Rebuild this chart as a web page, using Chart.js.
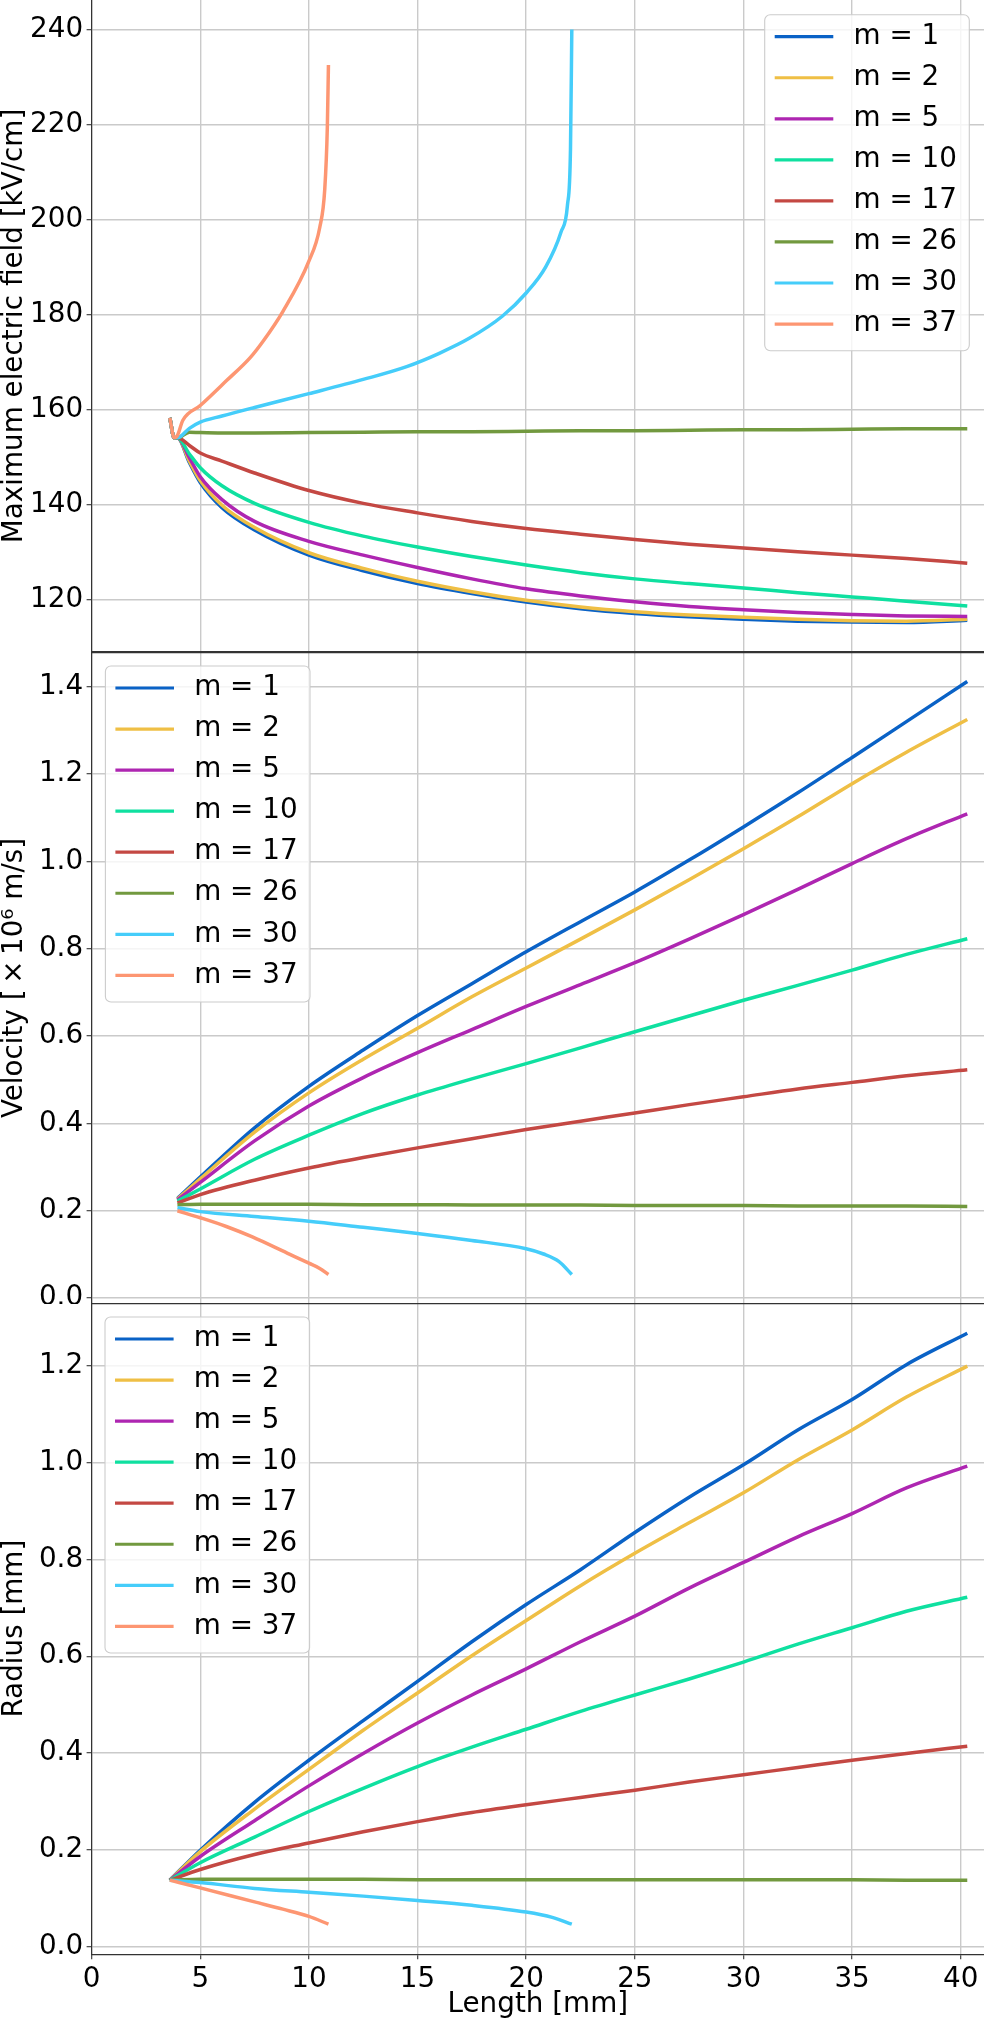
<!DOCTYPE html>
<html>
<head>
<meta charset="utf-8">
<script src="https://cdn.jsdelivr.net/npm/chart.js@4.4.0/dist/chart.umd.min.js"></script>
<style>
  body { margin: 0; background: #fff; overflow: hidden; width: 984px; height: 2020px; position: relative; }
  .panel { position: absolute; left: 0; }
  canvas { display: block; }
</style>
</head>
<body>
<div class="panel" style="top:0px"><canvas id="field" width="984" height="652"></canvas></div>
<div class="panel" style="top:652px"><canvas id="velocity" width="984" height="652"></canvas></div>
<div class="panel" style="top:1303px"><canvas id="radius" width="984" height="717"></canvas></div>
<script>
const labels = ["m = 1", "m = 2", "m = 5", "m = 10", "m = 17", "m = 26", "m = 30", "m = 37"];
const colors = ["#0a62c6", "#efbf45", "#ae26b1", "#0fe0a0", "#c44843", "#72993f", "#45cdfa", "#fd9672"];

// top panel: maximum electric field [kV/cm]
const lenE   = [3.6, 3.8, 3.95, 4.5, 5, 6, 7.5, 10, 12.5, 15, 17.5, 20, 22.5, 25, 27.5, 30, 32.5, 35, 37.5, 40.3];
const fieldM1  = [158.2, 154, 154, 148.8, 144.6, 139.3, 134.6, 129.3, 126.0, 123.3, 121.2, 119.4, 118.0, 117.0, 116.3, 115.8, 115.4, 115.2, 115.1, 115.6];
const fieldM2  = [158.2, 154, 154, 149.1, 145.0, 139.8, 135.1, 129.8, 126.5, 123.8, 121.6, 119.8, 118.4, 117.4, 116.7, 116.2, 115.8, 115.5, 115.4, 115.8];
const fieldM5  = [158.2, 154, 154, 149.8, 145.8, 141.0, 136.4, 132.2, 129.3, 126.7, 124.3, 122.2, 120.7, 119.5, 118.5, 117.8, 117.2, 116.8, 116.5, 116.4];
const fieldM10 = [158.2, 154, 154, 150.6, 147.7, 143.9, 140.2, 136.2, 133.3, 131.0, 129.0, 127.2, 125.6, 124.3, 123.3, 122.4, 121.4, 120.5, 119.6, 118.6];
const fieldM17 = [158.2, 154, 154, 152.4, 150.8, 149.1, 146.6, 142.9, 140.2, 138.2, 136.4, 134.9, 133.7, 132.6, 131.6, 130.8, 130.0, 129.3, 128.6, 127.6];
const fieldM26 = [158.2, 154, 154, 155.2, 155.1, 155.0, 155.0, 155.1, 155.2, 155.3, 155.3, 155.4, 155.5, 155.5, 155.6, 155.7, 155.7, 155.8, 155.9, 155.9];
const lenE30   = [3.6, 3.8, 3.95, 4.5, 5, 6, 7.5, 10, 12.5, 14.5, 16, 17.4, 18.9, 20, 20.9, 21.6, 21.9, 22.04, 22.1];
const fieldM30 = [158.2, 154, 154, 156.0, 157.3, 158.6, 160.4, 163.3, 166.3, 169.0, 171.8, 175.0, 179.6, 184.5, 190.0, 197.3, 203.0, 215.0, 240];
const lenE37   = [3.6, 3.8, 3.95, 4.2, 5, 6.2, 7.3, 7.9, 8.8, 10, 10.5, 10.73, 10.85, 10.9];
const fieldM37 = [158.2, 154, 154.5, 157.7, 160.8, 166.0, 170.9, 174.4, 180.6, 191.2, 198.3, 206.3, 219.6, 232.5];

// middle panel: velocity [x10^6 m/s]
const lenV   = [3.95, 5, 7.5, 10, 12.5, 15, 17.5, 20, 22.5, 25, 27.5, 30, 32.5, 35, 37.5, 40.3];
const velM1  = [0.228, 0.277, 0.39, 0.485, 0.568, 0.647, 0.72, 0.793, 0.862, 0.93, 1.003, 1.079, 1.157, 1.238, 1.32, 1.412];
const velM2  = [0.227, 0.273, 0.38, 0.47, 0.547, 0.618, 0.69, 0.756, 0.822, 0.889, 0.958, 1.029, 1.102, 1.178, 1.25, 1.325];
const velM5  = [0.225, 0.265, 0.36, 0.44, 0.505, 0.562, 0.615, 0.668, 0.718, 0.768, 0.822, 0.878, 0.936, 0.995, 1.052, 1.109];
const velM10 = [0.222, 0.25, 0.318, 0.373, 0.423, 0.465, 0.502, 0.537, 0.573, 0.61, 0.646, 0.682, 0.716, 0.751, 0.787, 0.823];
const velM17 = [0.218, 0.237, 0.27, 0.298, 0.322, 0.344, 0.365, 0.386, 0.405, 0.424, 0.443, 0.461, 0.479, 0.494, 0.509, 0.523];
const velM26 = [0.214, 0.215, 0.215, 0.215, 0.214, 0.214, 0.213, 0.213, 0.213, 0.212, 0.212, 0.212, 0.211, 0.211, 0.211, 0.21];
const lenV30 = [3.95, 5, 7.5, 10, 12.5, 15, 17.5, 20, 20.8, 21.5, 22.1];
const velM30 = [0.207, 0.198, 0.187, 0.176, 0.162, 0.148, 0.132, 0.113, 0.101, 0.084, 0.054];
const lenV37 = [3.95, 5, 6.2, 7.4, 9, 10, 10.5, 10.9];
const velM37 = [0.2, 0.184, 0.164, 0.14, 0.103, 0.08, 0.068, 0.054];

// bottom panel: radius [mm]
const lenR   = [3.6, 5, 7.5, 10, 12.5, 15, 17.5, 20, 22.5, 25, 27.5, 30, 32.5, 35, 37.5, 40.3];
const radM1  = [0.137, 0.199, 0.298, 0.385, 0.467, 0.548, 0.63, 0.707, 0.779, 0.856, 0.929, 0.996, 1.068, 1.131, 1.203, 1.268];
const radM2  = [0.137, 0.196, 0.284, 0.366, 0.447, 0.524, 0.601, 0.674, 0.746, 0.813, 0.876, 0.938, 1.006, 1.068, 1.136, 1.2];
const radM5  = [0.137, 0.186, 0.26, 0.332, 0.399, 0.462, 0.52, 0.574, 0.63, 0.683, 0.741, 0.794, 0.847, 0.895, 0.948, 0.993];
const radM10 = [0.137, 0.173, 0.226, 0.279, 0.327, 0.372, 0.412, 0.449, 0.486, 0.52, 0.553, 0.588, 0.625, 0.659, 0.693, 0.722];
const radM17 = [0.137, 0.159, 0.19, 0.214, 0.237, 0.258, 0.277, 0.293, 0.308, 0.323, 0.34, 0.355, 0.37, 0.385, 0.399, 0.414];
const radM26 = [0.137, 0.139, 0.139, 0.139, 0.139, 0.138, 0.138, 0.138, 0.138, 0.138, 0.138, 0.138, 0.138, 0.138, 0.137, 0.137];
const lenR30 = [3.6, 5, 7.5, 10, 12.5, 15, 17.5, 20, 21.2, 22.1];
const radM30 = [0.137, 0.132, 0.12, 0.112, 0.104, 0.095, 0.085, 0.071, 0.06, 0.046];
const lenR37 = [3.6, 5, 7.5, 8.8, 10, 10.9];
const radM37 = [0.137, 0.121, 0.092, 0.077, 0.062, 0.046];

const FONT = "'DejaVu Sans', 'Noto Sans', sans-serif";
const FS = 27.8;
const GRID = "#cacaca";
const SPINE = "#333333";
const X_MAX = 41.07;

Chart.defaults.font.family = FONT;
Chart.defaults.font.size = FS;
Chart.defaults.color = "#000";

const pts = (xs, ys) => xs.map((x, i) => ({ x: x, y: ys[i] }));

// matplotlib style legend box + top spine
const boxLegend = {
  id: "boxLegend",
  afterDraw(chart, args, opts) {
    const ctx = chart.ctx;
    const a = chart.chartArea;
    ctx.save();
    if (opts.topSpine) {
      ctx.strokeStyle = SPINE;
      ctx.lineWidth = 1.2;
      ctx.beginPath();
      ctx.moveTo(a.left, a.top + 0.6);
      ctx.lineTo(a.right, a.top + 0.6);
      ctx.stroke();
    }
    const x = opts.x, y = opts.y;
    ctx.beginPath();
    ctx.roundRect(x, y, 204.6, 336, 5.6);
    ctx.fillStyle = "rgba(255,255,255,0.8)";
    ctx.fill();
    ctx.strokeStyle = "#cccccc";
    ctx.lineWidth = 1.1;
    ctx.stroke();
    ctx.font = FS + "px " + FONT;
    ctx.textBaseline = "middle";
    ctx.textAlign = "left";
    chart.data.datasets.forEach((ds, i) => {
      const cy = y + 22 + i * 41.05;
      ctx.strokeStyle = ds.borderColor;
      ctx.lineWidth = 3.2;
      ctx.beginPath();
      ctx.moveTo(x + 10, cy);
      ctx.lineTo(x + 68.6, cy);
      ctx.stroke();
      ctx.fillStyle = "#000";
      ctx.fillText(ds.label, x + 88.8, cy);
    });
    ctx.restore();
  }
};

function panel(id, series, yMin, yMax, yStep, yTitle, fmt, withX, legendAt, topSpine) {
  return new Chart(document.getElementById(id), {
    type: "line",
    data: {
      datasets: series.map((s, i) => ({
        label: labels[i],
        data: pts(s[0], s[1]),
        borderColor: colors[i],
        backgroundColor: colors[i],
        borderWidth: 3.5,
        pointRadius: 0,
        fill: false,
        cubicInterpolationMode: "monotone",
        order: series.length - i
      }))
    },
    options: {
      responsive: false,
      animation: false,
      devicePixelRatio: 1,
      layout: { padding: 0 },
      plugins: {
        legend: { display: false },
        tooltip: { enabled: false },
        boxLegend: { x: legendAt[0], y: legendAt[1], topSpine: topSpine }
      },
      scales: {
        x: {
          type: "linear",
          min: 0,
          max: X_MAX,
          ticks: { display: withX, stepSize: 5, includeBounds: false, padding: 4, maxRotation: 0, autoSkip: false },
          grid: { color: GRID, lineWidth: 1.4, drawTicks: withX, tickLength: 5, tickColor: SPINE, tickWidth: 1.1 },
          border: { display: true, color: SPINE, width: 1.2 },
          title: { display: withX, text: "Length [mm]", padding: { top: 0, bottom: 1 }, font: { size: FS, lineHeight: 1.05 } },
          afterFit: (s) => {
            s.height = withX ? 65.7 : 0;
            s.paddingLeft = 0; s.paddingRight = 0; s.paddingTop = 0; s.paddingBottom = 0;
          }
        },
        y: {
          min: yMin,
          max: yMax,
          ticks: { stepSize: yStep, includeBounds: false, padding: 3.5, callback: fmt },
          grid: { color: GRID, lineWidth: 1.4, tickLength: 5, tickColor: SPINE, tickWidth: 1.1 },
          border: { display: true, color: SPINE, width: 1.2 },
          title: { display: true, text: yTitle, padding: 0, font: { size: FS, lineHeight: 1.05 } },
          afterFit: (s) => {
            s.width = 91.6;
            s.paddingLeft = 0; s.paddingRight = 0; s.paddingTop = 0; s.paddingBottom = 0;
          }
        }
      }
    },
    plugins: [boxLegend]
  });
}

panel("field",
  [[lenE, fieldM1], [lenE, fieldM2], [lenE, fieldM5], [lenE, fieldM10], [lenE, fieldM17], [lenE, fieldM26], [lenE30, fieldM30], [lenE37, fieldM37]],
  108.9, 246.2, 20, "Maximum electric field [kV/cm]", (v) => v.toFixed(0), false, [764.7, 14.7], false);

panel("velocity",
  [[lenV, velM1], [lenV, velM2], [lenV, velM5], [lenV, velM10], [lenV, velM17], [lenV, velM26], [lenV30, velM30], [lenV37, velM37]],
  -0.0135, 1.4795, 0.2, "Velocity [\u2009\u00d7\u200910\u2076 m/s]", (v) => v.toFixed(1), false, [105.4, 14], true);

panel("radius",
  [[lenR, radM1], [lenR, radM2], [lenR, radM5], [lenR, radM10], [lenR, radM17], [lenR, radM26], [lenR30, radM30], [lenR37, radM37]],
  -0.0163, 1.3305, 0.2, "Radius [mm]", (v) => v.toFixed(1), true, [105, 14], true);
</script>
</body>
</html>
